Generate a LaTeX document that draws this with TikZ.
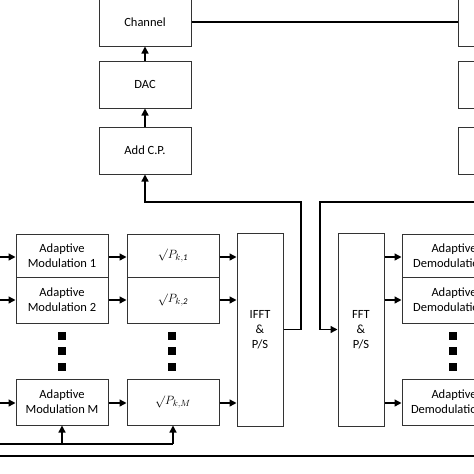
\documentclass[tikz,border=0pt]{standalone}
\usepackage{fontspec}
\setmainfont{Carlito}
\usetikzlibrary{arrows.meta}
\tikzset{
  blk/.style={draw=black!80,line width=1pt,inner sep=0pt,align=center,
    minimum width=92pt,font=\fontsize{12.5}{15}\selectfont},
  tall/.style={blk,minimum width=46pt,minimum height=193pt},
  sig/.style={line width=1.4pt,-{Triangle[length=7pt,width=7pt]}},
  wire/.style={line width=1.4pt}
}
\begin{document}
\begin{tikzpicture}[x=1pt,y=-1pt]
        \useasboundingbox (0,0) rectangle (474,474);
        \clip (0,0) rectangle (474,474);
        % transmitter chain
        \node[blk,minimum height=48pt] (chan) at (145,22) {Channel};
        \node[blk,minimum height=47pt] (dac) at (145,84.5) {DAC};
        \node[blk,minimum height=47pt] (acp) at (145,150.5) {Add C.P.};
        \node[blk,minimum height=48pt] (rx1) at (504,22) {};
        \node[blk,minimum height=47pt] (rx2) at (504,84.5) {};
        \node[blk,minimum height=47pt] (rx3) at (504,150.5) {};
        \node[blk,minimum height=43pt] (mod1) at (62,255.5) {Adaptive\\Modulation 1};
        \node[blk,minimum height=46pt] (mod2) at (62,300) {Adaptive\\Modulation 2};
        \node[blk,minimum height=46pt] (modM) at (62,402) {Adaptive\\Modulation M};
        \node[blk,minimum height=43pt] (p1) at (173,255.5) {$\surd P_{k,\mathit{1}}$};
        \node[blk,minimum height=46pt] (p2) at (173,300) {$\surd P_{k,\mathit{2}}$};
        \node[blk,minimum height=46pt] (pM) at (173,402) {$\surd P_{k,M}$};
        \node[tall] (ifft) at (260,329.5) {IFFT\\\&\\P/S};
        \node[tall] (fft) at (361,329.5) {FFT\\\&\\P/S};
        \node[blk,minimum width=104pt,minimum height=43pt] (dem1) at (454,255.5) {Adaptive\\Demodulation 1};
        \node[blk,minimum width=104pt,minimum height=46pt] (dem2) at (454,300) {Adaptive\\Demodulation 2};
        \node[blk,minimum width=104pt,minimum height=46pt] (demM) at (454,402) {Adaptive\\Demodulation M};
        \coordinate (in1) at (0,257);
        \coordinate (in2) at (0,300);
        \coordinate (inM) at (0,403);
        \coordinate (fb) at (0,444);
        \coordinate (txup) at (301,202);
        \coordinate (rxin) at (320,202);
        % dots
        \foreach \x in {62,172,453}
          \foreach \y in {336,351,367}
            \fill (\x-4,\y-4) rectangle (\x+4,\y+4);
        % connectors
        \draw[sig] (dac) -- (chan);
        \draw[sig] (acp) -- (dac);
        \draw[wire] (chan.east) -- (chan.east -| rx1.west);
        \draw[sig] (in1) -- (mod1.west |- in1);
        \draw[sig] (in2) -- (mod2.west |- in2);
        \draw[sig] (inM) -- (modM.west |- inM);
        \draw[sig] (mod1.east |- in1) -- (p1.west |- in1);
        \draw[sig] (mod2.east |- in2) -- (p2.west |- in2);
        \draw[sig] (modM.east |- inM) -- (pM.west |- inM);
        \draw[sig] (p1.east |- in1) -- (ifft.west |- in1);
        \draw[sig] (p2.east |- in2) -- (ifft.west |- in2);
        \draw[sig] (pM.east |- inM) -- (ifft.west |- inM);
        \draw[sig] (ifft.east) -| (txup) -| (acp.south);
        \draw[sig] (480,202) -- (rxin) |- (fft.west);
        \draw[sig] (fft.east |- in1) -- (dem1.west |- in1);
        \draw[sig] (fft.east |- in2) -- (dem2.west |- in2);
        \draw[sig] (fft.east |- inM) -- (demM.west |- inM);
        \draw[wire] (fb) -- (pM.south |- fb);
        \draw[sig] (modM.south |- fb) -- (modM.south);
        \draw[sig] (pM.south |- fb) -- (pM.south);
        \draw[line width=2.2pt] (0,456) -- (474,456);
\end{tikzpicture}
\end{document}
